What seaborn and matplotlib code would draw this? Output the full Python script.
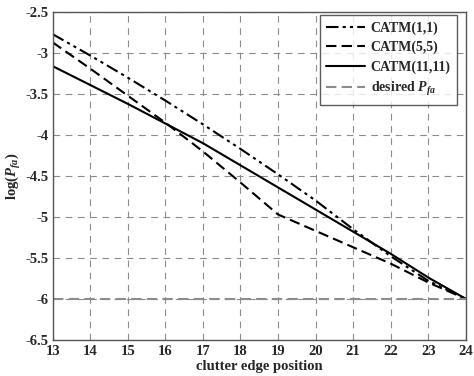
import matplotlib
matplotlib.use("Agg")
import matplotlib.pyplot as plt
import seaborn as sns
import pandas as pd

positions = [13, 14, 15, 16, 17, 18, 19, 20, 21, 22, 23, 24]
catm_1_1 = [-2.77, -3.03, -3.30, -3.58, -3.87, -4.17, -4.48, -4.80, -5.15, -5.48, -5.78, -6.0]
catm_5_5 = [-2.87, -3.19, -3.52, -3.85, -4.20, -4.58, -4.97, -5.17, -5.37, -5.57, -5.80, -6.0]
catm_11_11 = [-3.16, -3.39, -3.62, -3.86, -4.10, -4.37, -4.64, -4.91, -5.18, -5.45, -5.74, -6.0]
desired_pfa = -6.0

sns.set_style("white")
plt.rcParams["font.family"] = ["Liberation Serif", "DejaVu Serif"]
plt.rcParams["font.weight"] = "bold"
plt.rcParams["mathtext.fontset"] = "custom"
plt.rcParams["mathtext.it"] = "Liberation Serif:bold:italic"
plt.rcParams["mathtext.rm"] = "Liberation Serif:bold"

df = pd.DataFrame({
    "pos": positions * 3,
    "val": catm_1_1 + catm_5_5 + catm_11_11,
    "series": ["CATM(1,1)"] * 12 + ["CATM(5,5)"] * 12 + ["CATM(11,11)"] * 12,
})

fig = plt.figure(figsize=(4.74, 3.76), dpi=100)
ax = fig.add_axes([0.111, 0.096, 0.872, 0.872])

styles = {
    "CATM(1,1)": (0, (6, 2, 1.5, 2, 1.5, 2)),
    "CATM(5,5)": (0, (5, 2.5)),
    "CATM(11,11)": "-",
}
for name, ls in styles.items():
    sns.lineplot(data=df[df["series"] == name], x="pos", y="val", ax=ax,
                 color="black", linewidth=1.5, linestyle=ls, label=name)

ax.axhline(desired_pfa, color="#8c8c8c", linestyle=(0, (5, 2.5)), linewidth=1.5,
           label=r"desired $P_{fa}$")

ax.set_xlim(13, 24)
ax.set_ylim(-6.5, -2.5)
ax.set_xticks(range(13, 25))
ax.set_yticks([-6.5, -6, -5.5, -5, -4.5, -4, -3.5, -3, -2.5])
ax.set_yticklabels(["-6.5", "-6", "-5.5", "-5", "-4.5", "-4", "-3.5", "-3", "-2.5"])
ax.grid(True, color="#8c8c8c", linestyle=(0, (6, 5)), linewidth=0.8)
ax.tick_params(axis="both", labelsize=10.5, direction="in", length=3)
ax.tick_params(axis="x", pad=4)
ax.tick_params(axis="y", pad=3)
for lbl in ax.get_xticklabels() + ax.get_yticklabels():
    lbl.set_fontweight("bold")
for sp in ax.spines.values():
    sp.set_color("#555555")
    sp.set_linewidth(1.0)

ax.set_xlabel("clutter edge position", fontsize=10.5, fontweight="bold", labelpad=1)
ax.set_ylabel(r"log($P_{fa}$)", fontsize=10.5, fontweight="bold", labelpad=2)

leg = ax.legend(loc="upper right", bbox_to_anchor=(0.978, 0.991),
                prop={"size": 10, "weight": "bold"},
                frameon=True, fancybox=False, handlelength=2.8, handletextpad=0.4,
                borderpad=0.45, labelspacing=0.45, borderaxespad=0)
leg.get_frame().set_edgecolor("#333333")
leg.get_frame().set_linewidth(1.0)

fig.savefig("out.png", dpi=100)
